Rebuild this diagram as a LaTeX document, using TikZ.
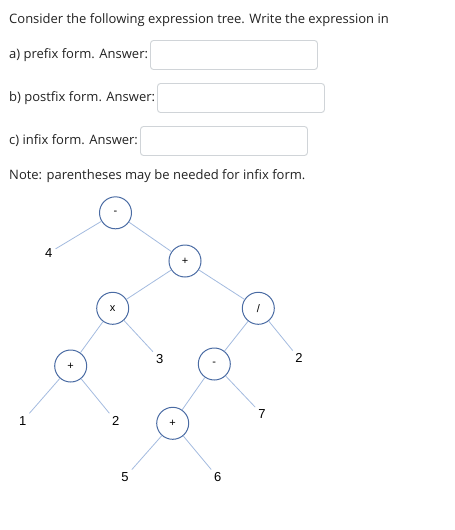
\documentclass[tikz,border=0pt]{standalone}
\usepackage{fontspec}
\setmainfont{Open Sans}
\newfontfamily\arialf{Liberation Sans}
\definecolor{edgeblue}{HTML}{A3BBDF}
\definecolor{circblue}{HTML}{4A6BA3}
\definecolor{boxgray}{HTML}{D0D4D8}
\definecolor{txtgray}{HTML}{222222}
\begin{document}
\begin{tikzpicture}[x=1pt,y=-1pt,
  qtext/.style={anchor=west,inner sep=0pt,text=txtgray,font=\fontsize{13}{15}\selectfont},
  ansbox/.style={draw=boxgray,rounded corners=3pt,line width=0.9pt,fill=white},
  opnode/.style={circle,draw=circblue,line width=1pt,minimum size=32pt,inner sep=0pt,font=\arialf\fontsize{11}{12}\selectfont},
  leaf/.style={inner sep=3pt,font=\arialf\fontsize{13}{14}\selectfont},
  edge/.style={draw=edgeblue,line width=0.8pt}]
\useasboundingbox (0,0) rectangle (455,530);
% text
\node[qtext] (q) at (9,20) {Consider the following expression tree. Write the expression in};
\node[qtext] (qa) at (9,55) {a) prefix form. Answer:};
\node[qtext] (qb) at (9,98) {b) postfix form. Answer:};
\node[qtext] (qc) at (9,141) {c) infix form. Answer:};
\node[qtext] (qn) at (9,176) {Note: parentheses may be needed for infix form.};
\draw[ansbox] (150.5,40.5) rectangle (317.5,69.5);
\draw[ansbox] (157.5,83.5) rectangle (324.5,112.5);
\draw[ansbox] (140.5,126.5) rectangle (307.5,155.5);
% tree nodes
\node[opnode] (r) at (115.5,212.8) {-};
\node[leaf] (n4) at (48.7,253) {4};
\node[opnode] (p1) at (185,261) {+};
\node[opnode] (x) at (112.7,308.3) {x};
\node[opnode] (dv) at (258.3,308.3) {/};
\node[opnode] (p2) at (70.7,366) {+};
\node[leaf] (n3) at (159.7,359) {3};
\node[opnode] (m) at (214.3,364) {-};
\node[leaf] (n2b) at (299,358.3) {2};
\node[leaf] (n1) at (22.7,421) {1};
\node[leaf] (n2a) at (115.7,421) {2};
\node[opnode] (p3) at (172.7,423.3) {+};
\node[leaf] (n7) at (262,414.3) {7};
\node[leaf] (n5) at (125,477.3) {5};
\node[leaf] (n6) at (217.7,477.3) {6};
% edges
\path[edge] (r) -- (n4);
\path[edge] (r) -- (p1);
\path[edge] (p1) -- (x);
\path[edge] (p1) -- (dv);
\path[edge] (x) -- (p2);
\path[edge] (x) -- (n3);
\path[edge] (dv) -- (m);
\path[edge] (dv) -- (n2b);
\path[edge] (p2) -- (n1);
\path[edge] (p2) -- (n2a);
\path[edge] (m) -- (p3);
\path[edge] (m) -- (n7);
\path[edge] (p3) -- (n5);
\path[edge] (p3) -- (n6);
\end{tikzpicture}
\end{document}
